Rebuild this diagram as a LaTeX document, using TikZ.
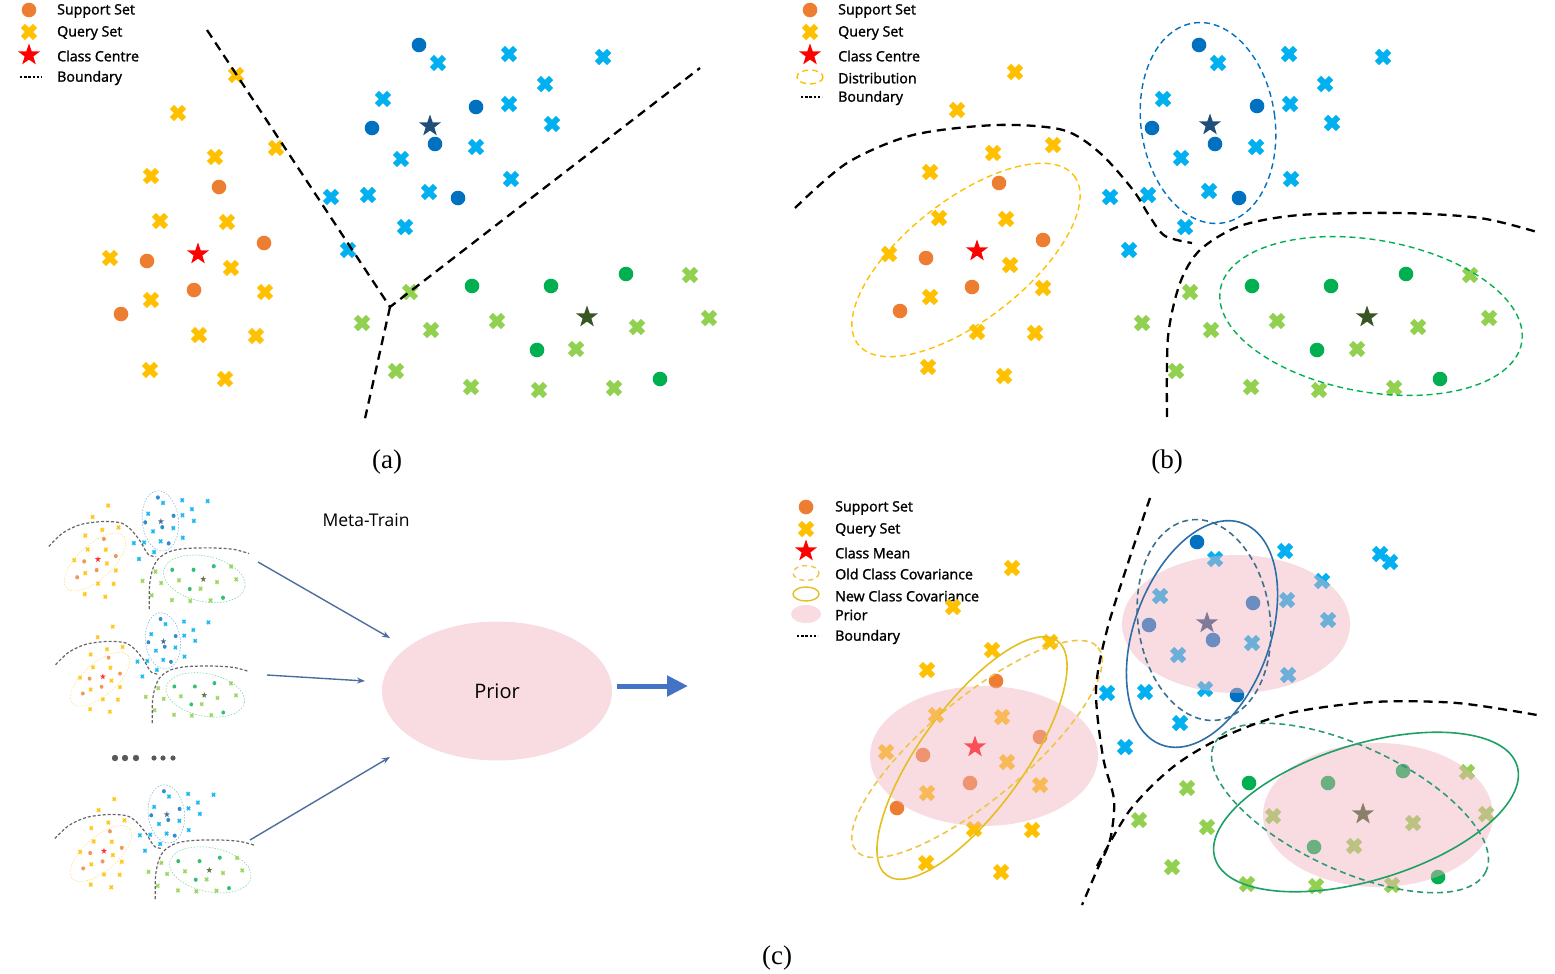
\documentclass[tikz,border=0pt]{standalone}
\usepackage{fontspec}
\setmainfont{Open Sans}
\newfontfamily\legfont[FakeBold=1.5]{Open Sans}
\newfontfamily\capfont{Liberation Serif}
\usetikzlibrary{shapes.geometric,arrows.meta}
\definecolor{cOr}{HTML}{ED7D31}
\definecolor{cYe}{HTML}{FFC000}
\definecolor{cRd}{HTML}{FF0000}
\definecolor{cBl}{HTML}{0070C0}
\definecolor{cBx}{HTML}{00B0F0}
\definecolor{cBs}{HTML}{1F4E79}
\definecolor{cGr}{HTML}{00B050}
\definecolor{cGx}{HTML}{92D050}
\definecolor{cGs}{HTML}{375623}
\definecolor{cPk}{HTML}{F8DCE2}
\definecolor{cPkT}{RGB}{240,178,191}
\definecolor{cArr}{HTML}{4C6E9E}
\definecolor{cBig}{HTML}{4472C4}
\definecolor{cYs}{HTML}{E5BE1F}
\definecolor{cYd}{HTML}{EFC548}
\definecolor{cBsol}{HTML}{2E6EA6}
\definecolor{cBdas}{HTML}{3A6F8F}
\definecolor{cGsol}{HTML}{1EA064}
\definecolor{cGdas}{HTML}{2E9A78}
\tikzset{
  supp/.pic={\fill (0,0) circle[radius=7.3];},
  qry/.pic={\fill[rotate=45] (-8.5,-3) rectangle (8.5,3); \fill[rotate=45] (-3,-8.5) rectangle (3,8.5);},
  ctr/.pic={\fill (-90:11.5) -- (-54:4.6) -- (-18:11.5) -- (18:4.6) -- (54:11.5) -- (90:4.6) -- (126:11.5) -- (162:4.6) -- (198:11.5) -- (234:4.6) -- cycle;},
  bnd/.style={draw=black, line width=2.3pt, dash pattern=on 9pt off 6pt},
  distY/.style={draw=cYe, line width=1.4pt, dash pattern=on 6pt off 4pt},
  distB/.style={draw=cBl, line width=1.4pt, dash pattern=on 6pt off 4pt},
  distG/.style={draw=cGr, line width=1.4pt, dash pattern=on 6pt off 4pt},
  lab/.style={anchor=west, inner sep=0pt, font=\legfont\fontsize{14.2}{16}\selectfont},
  dotline/.style={draw=black, line width=2.4pt, dash pattern=on 2.4pt off 1.8pt},
  capt/.style={inner sep=0pt, font=\capfont\fontsize{27}{30}\selectfont},
  thin arrow/.style={draw=cArr, line width=1.4pt, -{Stealth[length=8pt,width=6pt]}},
  pinkT/.style={fill=cPkT, fill opacity=0.45},
  thumb/.style={opacity=0.8, transform shape,
    bnd/.style={draw=black!75, line width=1.2pt, dash pattern=on 3pt off 2pt},
    distY/.style={draw=cYe!70, line width=0.5pt, dash pattern=on 1.5pt off 1.5pt},
    distB/.style={draw=cBl!70, line width=0.5pt, dash pattern=on 1.5pt off 1.5pt},
    distG/.style={draw=cGr!70, line width=0.5pt, dash pattern=on 1.5pt off 1.5pt}},
}
\newcommand\drawPanelB{%
  \foreach \x/\y in {1015/72,957/110,1053/145,993/153,930/172,939/218,1006/219,889/254,1010/265,930/297,1043/288,977/332,1035/333,928/367,1004/376}
    \pic[fill=cYe] at (\x,\y) {qry};
  \foreach \x/\y in {999/183,1043/240,926/258,972/287,900/311}
    \pic[fill=cOr] at (\x,\y) {supp};
  \pic[fill=cRd] at (977,251) {ctr};
  \foreach \x/\y in {1218/63,1289/54,1383/57,1325/84,1163/99,1290/104,1332/123,1256/147,1181/158,1291/179,1110/197,1148/195,1209/191,1185/227,1129/250}
    \pic[fill=cBx] at (\x,\y) {qry};
  \foreach \x/\y in {1199/45,1257/106,1152/128,1215/144,1239/198}
    \pic[fill=cBl] at (\x,\y) {supp};
  \pic[fill=cBs] at (1210,125) {ctr};
  \foreach \x/\y in {1190/292,1142/323,1211/330,1277/321,1470/275,1418/327,1489/318,1357/349,1176/371,1251/387,1319/390,1394/388}
    \pic[fill=cGx] at (\x,\y) {qry};
  \foreach \x/\y in {1252/286,1331/286,1406/274,1317/350,1440/379}
    \pic[fill=cGr] at (\x,\y) {supp};
  \pic[fill=cGs] at (1367,317) {ctr};
  \draw[distY, rotate around={38:(966,260)}] (966,260) ellipse[x radius=137, y radius=60];
  \draw[distB, rotate around={8:(1208,123)}] (1208,123) ellipse[x radius=67, y radius=101];
  \draw[distG, rotate around={-10:(1371,316)}] (1371,316) ellipse[x radius=153, y radius=76];
  \draw[bnd] plot[smooth] coordinates {(795,208) (847,163) (913,135) (997,125) (1063,130) (1100,153) (1133,190) (1150,217) (1165,236) (1192,243)};
  \draw[bnd] plot[smooth] coordinates {(1167,417) (1168,337) (1180,283) (1200,250) (1240,226) (1300,215) (1400,213) (1480,218) (1537,232)};
}
\begin{document}
\begin{tikzpicture}[x=1pt,y=-1pt]
\useasboundingbox (0,0) rectangle (1555,974);

% ================= panel (a) =================
\pic[fill=cOr] at (29,10) {supp};
\node[lab] (la1) at (57,11) {Support Set};
\pic[fill=cYe] at (29,32) {qry};
\node[lab] (la2) at (57,33) {Query Set};
\pic[fill=cRd] at (29,55) {ctr};
\node[lab] (la3) at (57,56) {Class Centre};
\draw[dotline] (20,77) -- (42,77);
\node[lab] (la4) at (57,78) {Boundary};

\foreach \x/\y in {236/75,178/113,276/148,215/157,151/176,160/221,227/222,110/258,231/268,151/300,265/292,199/335,256/336,150/370,225/379}
  \pic[fill=cYe] at (\x,\y) {qry};
\foreach \x/\y in {219/187,264/243,147/261,194/290,121/314}
  \pic[fill=cOr] at (\x,\y) {supp};
\pic[fill=cRd] at (198,254) {ctr};
\foreach \x/\y in {438/63,509/54,603/57,545/84,383/99,509/104,552/124,476/147,401/159,511/179,331/197,368/195,429/192,405/227,348/250}
  \pic[fill=cBx] at (\x,\y) {qry};
\foreach \x/\y in {419/45,476/107,372/128,435/144,458/198}
  \pic[fill=cBl] at (\x,\y) {supp};
\pic[fill=cBs] at (430,126) {ctr};
\foreach \x/\y in {410/292,362/323,431/330,497/321,690/275,637/327,709/318,576/349,396/371,471/387,539/390,614/388}
  \pic[fill=cGx] at (\x,\y) {qry};
\foreach \x/\y in {472/286,551/286,626/274,537/350,660/379}
  \pic[fill=cGr] at (\x,\y) {supp};
\pic[fill=cGs] at (587,317) {ctr};
\coordinate (ca) at (390,307);
\draw[bnd] (207,30) -- (ca) -- (700,68);
\draw[bnd] (ca) -- (364,423);
\node[capt] (capA) at (387,462) {(a)};

% ================= panel (b) =================
\pic[fill=cOr] at (810,10) {supp};
\node[lab] (lb1) at (838,11) {Support Set};
\pic[fill=cYe] at (810,32) {qry};
\node[lab] (lb2) at (838,33) {Query Set};
\pic[fill=cRd] at (810,55) {ctr};
\node[lab] (lb3) at (838,56) {Class Centre};
\draw[distY] (810,77) ellipse[x radius=13, y radius=7];
\node[lab] (lb4) at (838,78) {Distribution};
\draw[dotline] (801,97) -- (822,97);
\node[lab] (lb5) at (838,98) {Boundary};
\drawPanelB
\node[capt] (capB) at (1167,462) {(b)};

% ================= panel (c) left =================
\begin{scope}[thumb, shift={(149,550)}, xscale=0.27, yscale=0.30, shift={(-1166,-220)}]
  \drawPanelB
\end{scope}
\begin{scope}[thumb, shift={(152,668)}, xscale=0.26, yscale=0.28, shift={(-1166,-220)}]
  \drawPanelB
\end{scope}
\begin{scope}[thumb, shift={(155,842)}, xscale=0.27, yscale=0.29, shift={(-1166,-220)}]
  \drawPanelB
\end{scope}
\foreach \x/\r in {115/3.2,125/3.2,136/3.2,154/2.6,163/2.6,173/2.6}
  \fill[black!65] (\x,758) circle[radius=\r];

\node[inner sep=0pt, font=\fontsize{17.5}{20}\selectfont] (mt) at (366,520) {Meta-Train};
\node[ellipse, fill=cPk, minimum width=230pt, minimum height=139pt, inner sep=0pt,
      font=\fontsize{20}{22}\selectfont] (prior) at (497,691) {Prior};
\coordinate (t1) at (258,562);
\coordinate (t2) at (267,675);
\coordinate (t3) at (250,840);
\coordinate (p1) at (390,638);
\coordinate (p2) at (365,681);
\coordinate (p3) at (390,757);
\draw[thin arrow] (t1) -- (p1);
\draw[thin arrow] (t2) -- (p2);
\draw[thin arrow] (t3) -- (p3);
\coordinate (outs) at (617,686);
\coordinate (out) at (688,686);
\draw[draw=cBig, line width=5pt, -{Triangle[length=21pt,width=20pt]}] (outs) -- (out);

% ================= panel (c) right =================
\pic[fill=cOr] at (806,507) {supp};
\node[lab] (lc1) at (835,508) {Support Set};
\pic[fill=cYe] at (806,529) {qry};
\node[lab] (lc2) at (835,530) {Query Set};
\pic[fill=cRd] at (806,551) {ctr};
\node[lab] (lc3) at (835,553) {Class Mean};
\draw[draw=cYd, line width=1.4pt, dash pattern=on 5pt off 4pt] (806,573) ellipse[x radius=13, y radius=7.5];
\node[lab] (lc4) at (835,574) {Old Class Covariance};
\draw[draw=cYs, line width=1.4pt] (806,594) ellipse[x radius=13, y radius=7];
\node[lab] (lc5) at (835,596) {New Class Covariance};
\fill[cPk] (806,614) ellipse[x radius=15, y radius=9];
\node[lab] (lc6) at (835,615) {Prior};
\draw[dotline] (797,636) -- (818,636);
\node[lab] (lc7) at (835,637) {Boundary};

\foreach \x/\y in {1012/568,953/607,927/670,992/650,1050/642,936/715,1002/717,886/752,1007/762,1040/785,927/793,974/829,1032/830,926/863,1001/872}
  \pic[fill=cYe] at (\x,\y) {qry};
\foreach \x/\y in {996/681,1040/737,923/755,970/783,897/808}
  \pic[fill=cOr] at (\x,\y) {supp};
\pic[fill=cRd] at (975,747) {ctr};
\foreach \x/\y in {1285/551,1380/554,1390/562,1107/693,1145/692,1180/723,1125/747,1215/559,1160/596,1322/581,1287/600,1328/620,1252/643,1178/655,1288/675,1205/689}
  \pic[fill=cBx] at (\x,\y) {qry};
\foreach \x/\y in {1197/542,1237/695,1253/603,1149/625,1213/640}
  \pic[fill=cBl] at (\x,\y) {supp};
\pic[fill=cBs] at (1207,623) {ctr};
\foreach \x/\y in {1187/788,1139/820,1207/827,1172/867,1247/884,1316/886,1392/885,1273/816,1354/846,1413/823,1467/772,1486/814}
  \pic[fill=cGx] at (\x,\y) {qry};
\foreach \x/\y in {1249/783,1438/877,1328/783,1403/771,1314/847}
  \pic[fill=cGr] at (\x,\y) {supp};
\pic[fill=cGs] at (1363,814) {ctr};

\fill[pinkT] (984,756) ellipse[x radius=114, y radius=70];
\fill[pinkT] (1236,624) ellipse[x radius=114, y radius=69];
\fill[pinkT] (1378,815) ellipse[x radius=115, y radius=72];

\draw[draw=cYs, line width=1.6pt, rotate around={54:(972,758)}] (972,758) ellipse[x radius=145, y radius=52];
\draw[draw=cYd, line width=1.6pt, dash pattern=on 6pt off 4pt, rotate around={40:(977,749)}] (977,749) ellipse[x radius=158, y radius=50];
\draw[draw=cBsol, line width=1.6pt, rotate around={70:(1202,634)}] (1202,634) ellipse[x radius=118, y radius=68];
\draw[draw=cBdas, line width=1.6pt, dash pattern=on 6pt off 4pt, rotate around={8:(1204,620)}] (1204,620) ellipse[x radius=66, y radius=101];
\draw[draw=cGsol, line width=1.6pt, rotate around={17:(1366,812)}] (1366,812) ellipse[x radius=158, y radius=68];
\draw[draw=cGdas, line width=1.6pt, dash pattern=on 6pt off 4pt, rotate around={-25:(1350,808)}] (1350,808) ellipse[x radius=150, y radius=62];

\draw[bnd] plot[smooth] coordinates {(1150,498) (1130,557) (1107,630) (1096,690) (1103,757) (1114,800) (1110,840) (1097,870) (1082,905)};
\draw[bnd] plot[smooth] coordinates {(1097,866) (1130,810) (1173,767) (1223,737) (1290,713) (1373,702) (1457,703) (1537,715)};

\node[capt] (capC) at (777,958) {(c)};
\end{tikzpicture}
\end{document}
